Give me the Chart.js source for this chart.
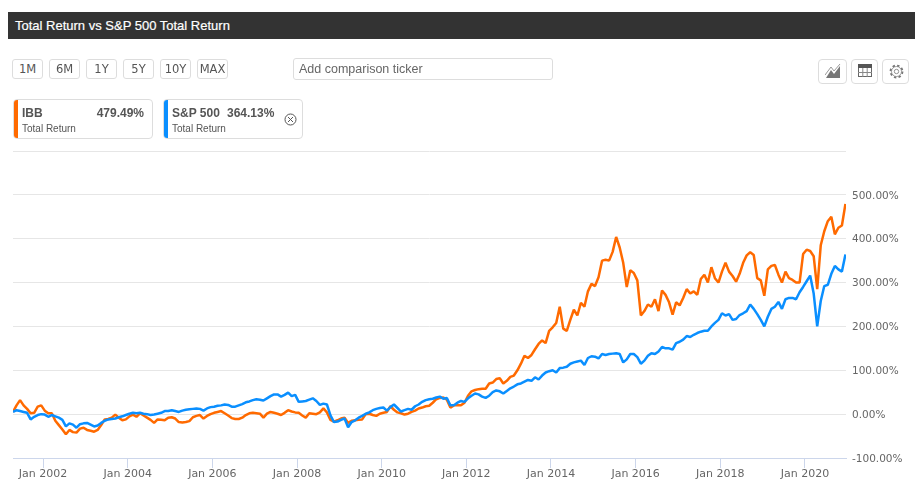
<!DOCTYPE html>
<html>
<head>
<meta charset="utf-8">
<title>Total Return vs S&amp;P 500 Total Return</title>
<script src="https://cdn.jsdelivr.net/npm/chart.js@4"></script>
<style>
html, body { margin: 0; padding: 0; background: #fff; }
body { width: 923px; height: 490px; position: relative; overflow: hidden; font-family: "DejaVu Sans", sans-serif; color: #555; }
#chartBox { position: absolute; left: 0; top: 0; width: 923px; height: 490px; }
.title { position: absolute; left: 8px; top: 12px; width: 907px; height: 27px; background: #333; color: #fff;
  font: 13px/27px "Liberation Sans", sans-serif; padding-left: 7px; box-sizing: border-box; -webkit-text-stroke: 0.2px #fff; }
.btn { position: absolute; top: 59px; width: 31px; height: 20px; box-sizing: border-box; border: 1px solid #ddd; border-radius: 3px;
  font-size: 11.5px; line-height: 18px; text-align: center; color: #555; background: #fff; }
.ticker { position: absolute; left: 293px; top: 58px; width: 260px; height: 22px; box-sizing: border-box; border: 1px solid #ddd; border-radius: 3px;
  font: 12.5px/20px "Liberation Sans", sans-serif; color: #666; padding-left: 5px; }
.icon { position: absolute; top: 59px; height: 25px; box-sizing: border-box; border: 1px solid #ddd; border-radius: 4px; background: #fff; }
.icon svg { display: block; position: absolute; left: 6px; top: 4px; }
.card { position: absolute; top: 99px; width: 140px; height: 40px; box-sizing: border-box; border: 1px solid #ddd; border-radius: 4px; background: #fff; }
.card .stripe { position: absolute; left: 0; top: 0; bottom: 0; width: 4px; border-radius: 3px 0 0 3px; }
.card b { position: absolute; top: 5px; font: bold 12px/16px "Liberation Sans", sans-serif; color: #555; white-space: nowrap; }
.card span.sub { position: absolute; left: 8px; top: 23px; font: 10px/12px "Liberation Sans", sans-serif; color: #555; white-space: nowrap; }
</style>
</head>
<body>
<div id="chartBox"><canvas id="chartReturn" width="923" height="490"></canvas></div>

<div class="title">Total Return vs S&amp;P 500 Total Return</div>

<div class="btn" style="left:12px">1M</div>
<div class="btn" style="left:49px">6M</div>
<div class="btn" style="left:86px">1Y</div>
<div class="btn" style="left:123px">5Y</div>
<div class="btn" style="left:160px">10Y</div>
<div class="btn" style="left:197px">MAX</div>
<div class="ticker">Add comparison ticker</div>

<div class="icon" style="left:818px;width:29px">
  <svg width="17" height="15" viewBox="0 0 17 15"><path d="M1 14 L6 6 L9 10 L15 2 L15 14 Z" fill="#777"/><path d="M0 11 L6 3 L9 7 L15 0" fill="none" stroke="#999" stroke-width="1"/></svg>
</div>
<div class="icon" style="left:851px;width:27px">
  <svg width="14" height="15" viewBox="0 0 14 15"><rect x="0.5" y="0.5" width="13" height="12" fill="#fff" stroke="#666"/><rect x="0" y="0" width="14" height="4" fill="#555"/><path d="M0 8.5H14M4.8 4V13M9.2 4V13" stroke="#888" fill="none"/></svg>
</div>
<div class="icon" style="left:882px;width:27px">
  <svg width="15" height="15" viewBox="0 0 15 15"><circle cx="7.5" cy="7.5" r="6" fill="none" stroke="#777" stroke-width="1.8" stroke-dasharray="2.4 2.3"/><circle cx="7.5" cy="7.5" r="5" fill="none" stroke="#777" stroke-width="0.7"/><circle cx="7.5" cy="7.5" r="2.2" fill="none" stroke="#777" stroke-width="0.8"/></svg>
</div>

<div class="card" style="left:13px">
  <div class="stripe" style="background:#ff6a00"></div>
  <b style="left:8px">IBB</b>
  <b style="right:8px">479.49%</b>
  <span class="sub">Total Return</span>
</div>
<div class="card" style="left:163px">
  <div class="stripe" style="background:#0a8fff"></div>
  <b style="left:8px">S&amp;P 500</b>
  <b style="left:63px">364.13%</b>
  <span class="sub">Total Return</span>
  <svg style="position:absolute;left:120px;top:13px" width="13" height="13" viewBox="0 0 13 13"><circle cx="6.5" cy="6.5" r="5.5" fill="none" stroke="#555"/><path d="M4 4L9 9M9 4L4 9" stroke="#555" fill="none"/></svg>
</div>

<script>
// monthly readings from the picture, percent total return
const ibbValues = [
  5, 20, 32, 20, 12, 2, 3, 17, 20,                       // 2001 from april
  8, 2, 2, -15, -25, -35, -46, -36, -41, -42, -33, -31,  // 2002
  -36, -38, -40, -36, -25, -12, -11, -8, -1, -8, -14, -12, // 2003
  -5, -1, -6, 2, -3, -8, -13, -20, -12, -13, -14, -8,    // 2004
  -7, -10, -18, -19, -18, -16, -7, -4, -2, -10, -4, 0,   // 2005
  3, 5, 7, 2, -3, -9, -11, -11, -8, -2, 2, 3,            // 2006
  2, 1, -8, 1, 5, 3, 1, -2, 3, 9, 6, 4,                  // 2007
  3, -3, -8, 2, 1, 0, 4, 13, 4, -13, -17, -14,           // 2008
  -10, -8, -20, -15, -14, -13, -12, 0, 1, -2, -4, 1,     // 2009
  3, 5, 18, 10, 4, 2, -1, 1, 5, 8, 13, 15,               // 2010
  18, 19, 26, 34, 37, 38, 33, 15, 20, 21, 20, 26,        // 2011
  42, 52, 55, 57, 58, 58, 70, 72, 80, 82, 70, 76,        // 2012
  85, 88, 100, 115, 133, 128, 135, 148, 160, 168, 162, 190, // 2013
  198, 208, 245, 195, 190, 215, 238, 225, 254, 245, 280, 297, // 2014
  292, 312, 350, 352, 350, 370, 404, 380, 345, 290, 328, 322, // 2015
  305, 225, 235, 250, 245, 262, 235, 282, 272, 255, 227, 255, // 2016
  248, 265, 285, 275, 280, 272, 308, 318, 300, 335, 310, 300, // 2017
  325, 345, 325, 315, 302, 320, 345, 362, 369, 363, 310, 305, // 2018
  270, 330, 338, 340, 318, 300, 325, 310, 306, 300, 300, 365, // 2019
  375, 372, 360, 285, 385, 417, 440, 450, 410, 425, 430, 479.49 // 2020
];
const spxValues = [
  5, 9, 7, 5, 3, -12, -6, -2, 0,                         // 2001 from april
  -1, -6, -2, -5, -8, -13, -28, -21, -24, -31, -23, -21, // 2002
  -20, -24, -28, -26, -20, -15, -12, -11, -10, -7, -5, -2, // 2003
  1, 3, 2, 3, 1, 0, -2, -1, 1, 3, 7, 7,                  // 2004
  9, 7, 5, 8, 10, 11, 12, 13, 12, 8, 13, 16,             // 2005
  17, 19, 20, 22, 21, 17, 17, 20, 23, 27, 29, 32,        // 2006
  34, 33, 31, 36, 41, 45, 45, 40, 44, 49, 41, 44,        // 2007
  28, 29, 30, 33, 36, 30, 21, 24, 22, -3, -18, -17,      // 2008
  -13, -10, -30, -18, -14, -8, -4, 1, 4, 9, 12, 14,      // 2009
  15, 8, 16, 22, 14, 6, 9, 12, 10, 18, 22, 28,           // 2010
  32, 34, 35, 38, 40, 35, 37, 20, 20, 26, 30, 28,        // 2011
  36, 42, 47, 45, 40, 37, 42, 50, 54, 52, 47, 53,        // 2012
  59, 63, 68, 70, 74, 78, 76, 84, 79, 88, 95, 98,        // 2013
  100, 95, 105, 106, 108, 115, 118, 120, 122, 112, 128, 132, // 2014
  131, 127, 137, 135, 137, 138, 139, 137, 118, 125, 137, 137, // 2015
  130, 115, 122, 133, 139, 137, 143, 153, 150, 150, 147, 162, // 2016
  165, 170, 178, 176, 181, 185, 188, 190, 190, 200, 208, 215, // 2017
  230, 225, 228, 215, 217, 226, 230, 235, 250, 240, 228, 215, // 2018
  200, 222, 240, 245, 256, 240, 262, 265, 265, 262, 278, 290, // 2019
  303, 316, 275, 200, 258, 292, 295, 320, 338, 330, 325, 364.13 // 2020
];
const tickYears = [2002, 2004, 2006, 2008, 2010, 2012, 2014, 2016, 2018, 2020];
const tickPercents = [-100, 0, 100, 200, 300, 400, 500, 600];
const firstYear = 2001.29; // series starts mid april 2001
const lastYear = 2020.97;

function toPoints(values) {
    return values.map((v, i) => ({ x: firstYear + i / 12, y: v }));
}

const ctx = document.getElementById('chartReturn').getContext('2d');
const chartReturn = new Chart(ctx, {
    type: 'line',
    data: {
        datasets: [
            { label: 'S&P 500', data: toPoints(spxValues), borderColor: '#0a8fff', borderWidth: 2.5, borderJoinStyle: 'bevel', pointRadius: 0, tension: 0, order: 1 },
            { label: 'IBB', data: toPoints(ibbValues), borderColor: '#ff6a00', borderWidth: 2.5, borderJoinStyle: 'bevel', pointRadius: 0, tension: 0, order: 2 }
        ]
    },
    options: {
        responsive: false,
        animation: false,
        layout: { padding: { left: 13, top: 151, right: 0, bottom: 0 } },
        plugins: { legend: { display: false }, tooltip: { enabled: false }, title: { display: false } },
        scales: {
            x: {
                type: 'linear',
                min: firstYear,
                max: lastYear,
                afterBuildTicks: (axis) => { axis.ticks = tickYears.map(v => ({ value: v })); },
                afterFit: (axis) => { axis.height = 32; },
                grid: { drawOnChartArea: false, tickLength: 10, tickColor: '#ccd6eb' },
                border: { color: '#ccd6eb' },
                ticks: {
                    autoSkip: false, maxRotation: 0, padding: 0,
                    color: '#666', font: { family: 'DejaVu Sans', size: 11 },
                    callback: (v) => 'Jan ' + v
                }
            },
            y: {
                position: 'right',
                min: -100,
                max: 600,
                afterBuildTicks: (axis) => { axis.ticks = tickPercents.map(v => ({ value: v })); },
                afterFit: (axis) => { axis.width = 77; },
                grid: { color: '#e6e6e6', drawTicks: false },
                border: { display: false },
                ticks: {
                    padding: 6, labelOffset: 1,
                    color: '#666', font: { family: 'DejaVu Sans', size: 10.5 },
                    callback: (v) => v === 600 ? '' : v.toFixed(2) + '%'
                }
            }
        }
    }
});
</script>
</body>
</html>
